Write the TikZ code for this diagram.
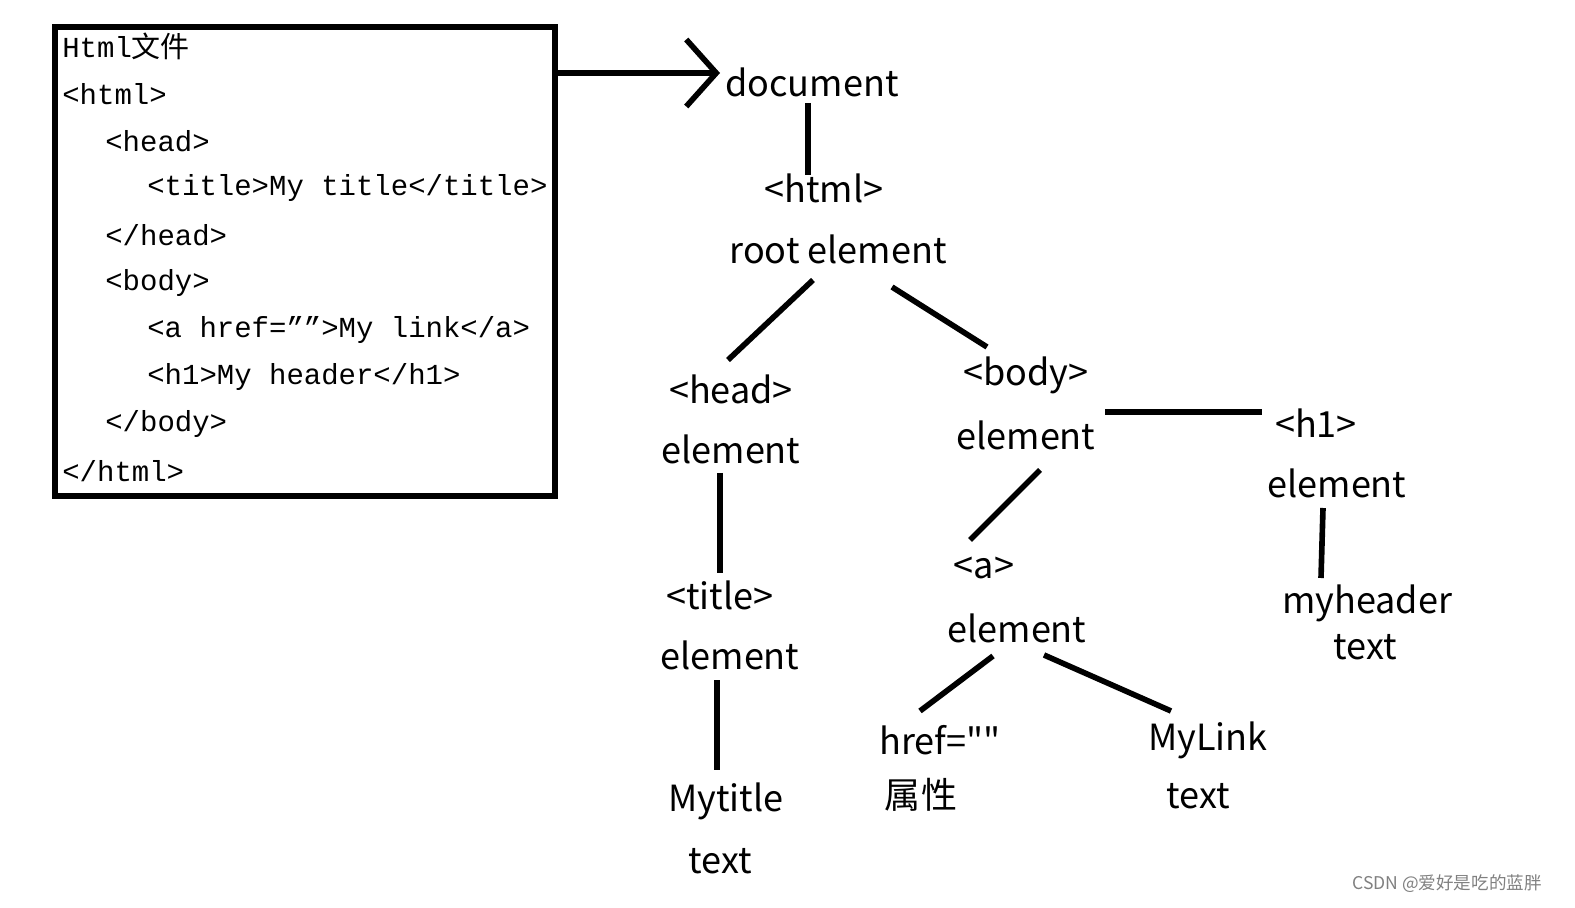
\documentclass[tikz,border=0pt]{standalone}
\usepackage{fontspec}
\setmainfont{Liberation Mono}
\newfontfamily\cjk{Noto Sans CJK SC}
\usetikzlibrary{positioning,calc,arrows.meta}
\begin{document}
\begin{tikzpicture}
  [
    x=0.02cm, y=-0.02cm,
    Code/.style={anchor=west, inner sep=0, font=\fontsize{16.5}{18}\selectfont},
    Tag/.style={inner sep=0, font=\cjk\fontsize{20.5}{22}\selectfont},
    Edge/.style={line width=3.2pt}
  ]
  \useasboundingbox (0,0) rectangle (1575,908);
  % Source box
  \node[draw, line width=3.2pt, minimum width=10cm, minimum height=9.38cm] (src) at (305,261.5) {};
  \node[Code] (l0) at (62,46) {Html{\cjk 文件}};
  \node[Code] (l1) at (62,94) {<html>};
  \node[Code] (l2) at (105,141) {<head>};
  \node[Code] (l3) at (147,188) {<title>My title</title>};
  \node[Code] (l4) at (105,235) {</head>};
  \node[Code] (l5) at (105,283) {<body>};
  \node[Code] (l6) at (147,330) {<a href=””>My link</a>};
  \node[Code] (l7) at (147,377) {<h1>My header</h1>};
  \node[Code] (l8) at (105,424) {</body>};
  \node[Code] (l9) at (62,471) {</html>};
  % Tree nodes
  \node[Tag] (doc) at (812,82) {document};
  \node[Tag] (html) at (824,188) {<html>};
  \node[Tag] (root) at (838,249) {root element};
  \node[Tag] (headT) at (731,389) {<head>};
  \node[Tag] (headE) at (731,449) {element};
  \node[Tag] (bodyT) at (1026,375) {<body>};
  \node[Tag] (bodyE) at (1026,435) {element};
  \node[Tag] (h1T) at (1316,423) {<h1>};
  \node[Tag] (h1E) at (1337,483) {element};
  \node[Tag] (titleT) at (720,595) {<title>};
  \node[Tag] (titleE) at (730,655) {element};
  \node[Tag] (mytitle) at (726,801) {Mytitle};
  \node[Tag] (mytitleT) at (720,861) {text};
  \node[Tag] (aT) at (984,568) {<a>};
  \node[Tag] (aE) at (1017,628) {element};
  \node[Tag] (href) at (940,740) {href=""};
  \node[Tag] (attr) at (921,795) {属性};
  \node[Tag] (mylink) at (1208,740) {MyLink};
  \node[Tag] (mylinkT) at (1198,796) {text};
  \node[Tag] (myh) at (1367,603) {myheader};
  \node[Tag] (myhT) at (1365,647) {text};
  \node[inner sep=0, text=gray, font=\cjk\fontsize{10}{12}\selectfont] (mark) at (1447,884) {CSDN @爱好是吃的蓝胖};
  % Lines
  \coordinate (tip) at ($(doc)+(-92,-9)$);
  \draw[Edge, -{Straight Barb[length=0.6cm, width=1.34cm]}] (src.east |- tip) -- (tip);
  \draw[Edge] ($(doc)+(-4,21)$) -- ($(html)+(-16,-13)$);
  \draw[Edge] ($(root)+(-25,31)$) -- ($(headT)+(-3,-29)$);
  \draw[Edge] ($(root)+(54,38)$) -- ($(bodyT)+(-39,-28)$);
  \draw[Edge] ($(headE)+(-11,24)$) -- ($(titleT)+(0,-22)$);
  \draw[Edge] ($(bodyE)+(79,-23)$) -- ($(h1T)+(-54,-11)$);
  \draw[Edge] ($(bodyE)+(14,35)$) -- ($(aT)+(-14,-28)$);
  \draw[Edge] ($(h1E)+(-14,25)$) -- ($(myh)+(-46,-25)$);
  \draw[Edge] ($(titleE)+(-13,25)$) -- ($(mytitle)+(-9,-31)$);
  \draw[Edge] ($(aE)+(-24,28)$) -- ($(href)+(-20,-29)$);
  \draw[Edge] ($(aE)+(27,27)$) -- ($(mylink)+(-37,-29)$);
\end{tikzpicture}
\end{document}
